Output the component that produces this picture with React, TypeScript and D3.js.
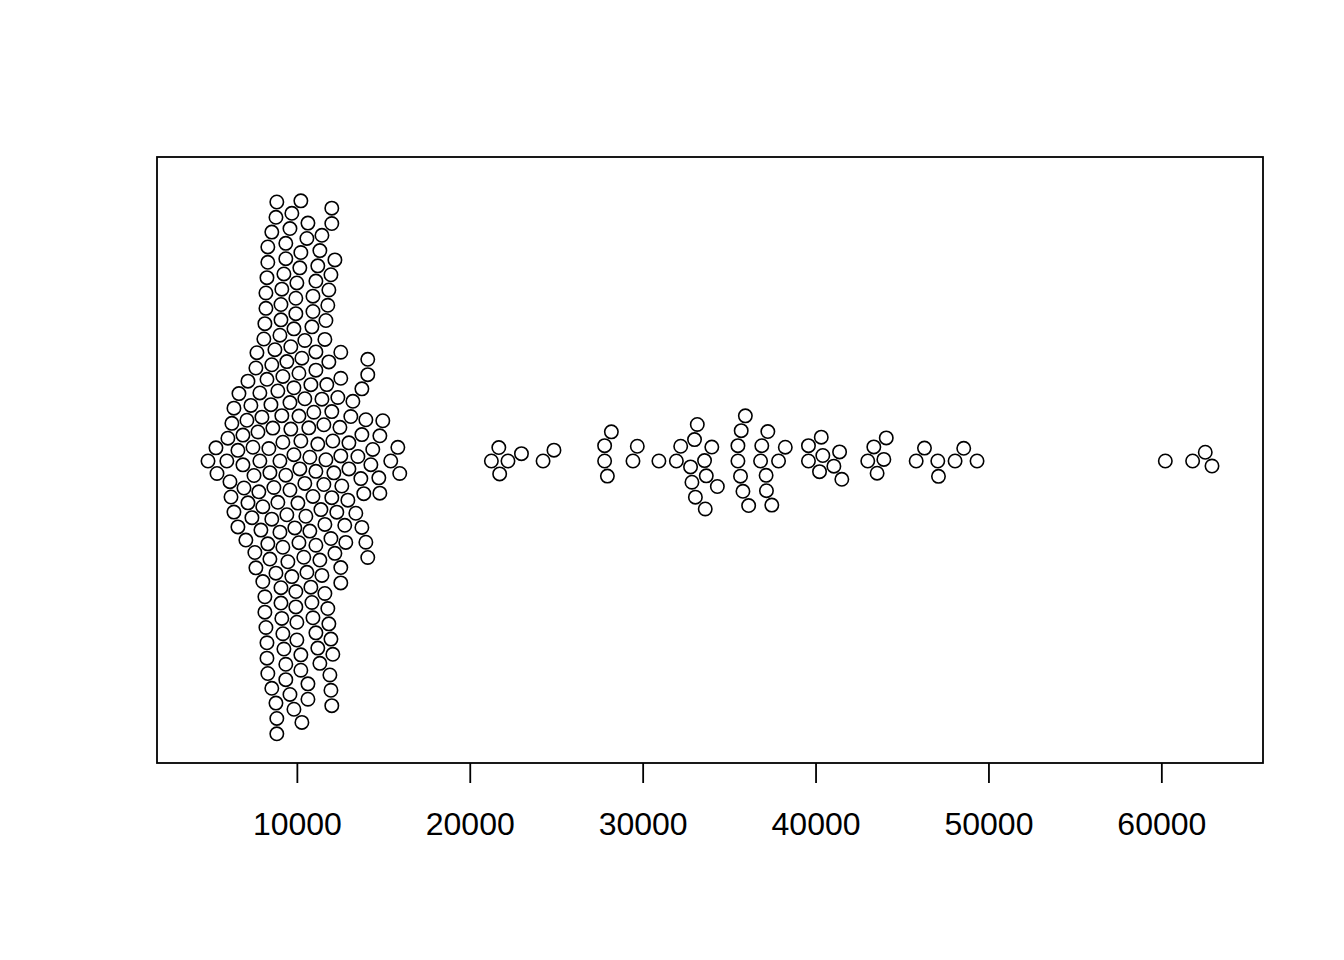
import React, { useRef, useEffect } from "react";
import * as d3 from "d3";

// values, band by band (top of the swarm first)
const clusterA = [9480, 10580, 9360, 8840, 10230, 12080, 9600, 8550, 12020, 10520, 9250, 8380, 12020, 10120, 11100, 9190, 8320, 11970, 10000, 10980, 9130, 8270, 11790, 9940, 10870, 9080, 8270, 11680, 9830, 10750, 9020, 8210, 11620, 9830, 10690, 9020, 8210, 11450, 12540, 10230];
const clusterB = [9360, 11910, 8030, 8840, 10120, 10930, 11450, 7860, 9650, 10640, 8790, 12200, 7630, 8500, 9600, 10460, 11390, 12140, 13010, 14100, 7170, 8090, 9080, 10230, 11210, 11970, 12770, 13990, 6650, 10870];
const clusterC = [7460, 8790, 9710, 11620, 12540, 13760, 6360, 8150, 9190, 10400, 11100, 7400, 6240, 7110, 8840, 10000, 11730, 12540, 13530, 14800, 6010, 7980, 9600, 10750, 13010, 14100, 5380, 6940, 7800, 8670, 10290, 11330, 12310, 13760, 14800, 15950, 8550, 11100, 11970, 12950];
const clusterD = [4860, 5950, 6880, 7690, 9420, 10230, 13760, 14740, 15840, 5320, 6880, 7750, 8550, 9600, 10460, 11330, 12490, 13120, 14100, 14970, 6130, 7050, 8730, 9940, 10930, 11850, 15430, 6190, 7920, 9190, 11620, 12370, 13410, 14390, 6360, 7170, 8150, 10170, 11100, 11970, 12830, 13700, 7340, 8900, 9880];
const clusterE = [6590, 8210, 10640, 11560, 12540, 13870, 6590, 7520, 8320, 9080, 9940, 10810, 11680, 12540, 13240, 13990, 14280, 7570, 8440, 9250, 10060, 10930, 11850, 7630, 8610, 9360, 10230, 11100, 12080, 7860, 8790, 9650, 10460, 11330];
const clusterF = [12200, 9710, 8030, 10580, 8900, 11450, 12600, 8150, 9020, 9830, 10640, 11560, 8270, 9080, 9830, 10810, 11790, 8270, 9130, 9940, 10930, 11850, 8320, 9130, 10000, 11100, 12020, 8320, 9190, 10120, 11210, 12020, 8440, 9360, 10170, 11210, 12020, 8550, 9360, 10290, 9420];
const midGroup = [21250, 21680, 21730, 22210, 22990, 24240, 24870, 27800, 27800, 27960, 28190, 29440, 29690];
const highGroup = [30940, 31950, 32200, 32770, 32850, 33000, 33050, 33160, 33580, 33620, 33680, 34000, 34320, 35510, 35510, 35660, 35700, 35800, 35940, 36130, 36820, 36890, 37140, 37160, 37240, 37470, 37860, 38250, 39590, 39590, 40230, 40330, 40420, 41060, 41390, 41520, 43020, 43370, 43560, 43950, 44090, 45820, 46300, 47070, 47110, 48070, 48570, 49340];
const topGroup = [60230, 61810, 62540, 62930];

const tickLabels = [10000, 20000, 30000, 40000, 50000, 60000];

const allValues = [
  ...clusterA, ...clusterB, ...clusterC, ...clusterD, ...clusterE, ...clusterF,
  ...midGroup, ...highGroup, ...topGroup
];

// beeswarm "swarm" method, priority ascending (same as R's beeswarm)
function swarm(xs, size) {
  const order = xs.map((_, i) => i).sort((a, b) => xs[a] - xs[b]);
  const px = [], py = [];
  const out = new Array(xs.length).fill(0);
  order.forEach(i => {
    const xi = xs[i] / size;
    const preX = [], preY = [];
    for (let j = 0; j < px.length; j++) {
      if (Math.abs(xi - px[j]) < 1) {
        preX.push(px[j]);
        preY.push(py[j]);
      }
    }
    let y = 0;
    if (preX.length) {
      const off = preX.map(p => Math.sqrt(1 - (xi - p) ** 2));
      const cand = [0, ...preY.map((p, k) => p + off[k]), ...preY.map((p, k) => p - off[k])];
      let best = 0, bestAbs = Infinity;
      cand.forEach(c => {
        const bad = preX.some((p, k) => (xi - p) ** 2 + (c - preY[k]) ** 2 < 0.999);
        if (!bad && Math.abs(c) < bestAbs) {
          bestAbs = Math.abs(c);
          best = c;
        }
      });
      y = best;
    }
    px.push(xi);
    py.push(y);
    out[i] = y * size;
  });
  return out;
}

function BeeSwarm() {
  const ref = useRef(null);

  useEffect(() => {
    d3.select(ref.current).select("svg").remove();

    const width = 1344, height = 960;
    const left = 157, right = 1263, top = 157, bottom = 763;
    const mid = 461;
    const spacing = 15.36;

    const [lo, hi] = d3.extent(allValues);
    const pad = (hi - lo) * 0.0508;
    const x = d3.scaleLinear().domain([lo - pad, hi + pad]).range([left, right]);

    const svg = d3
      .select(ref.current)
      .append("svg")
      .attr("width", width)
      .attr("height", height)
      .style("display", "block")
      .style("background", "#fff");

    const offsets = swarm(allValues.map(v => x(v)), spacing);

    svg
      .append("g")
      .selectAll("circle")
      .data(allValues)
      .enter()
      .append("circle")
      .attr("cx", d => x(d))
      .attr("cy", (d, i) => mid - offsets[i])
      .attr("r", 6.7)
      .attr("fill", "#fff")
      .attr("stroke", "#000")
      .attr("stroke-width", 1.6);

    svg
      .append("rect")
      .attr("x", left)
      .attr("y", top)
      .attr("width", right - left)
      .attr("height", bottom - top)
      .attr("fill", "none")
      .attr("stroke", "#000")
      .attr("stroke-width", 1.8);

    const axis = svg
      .append("g")
      .attr("transform", `translate(0, ${bottom})`)
      .call(d3.axisBottom(x).tickValues(tickLabels).tickSize(20).tickPadding(29).tickFormat(d3.format("d")));

    axis.select(".domain").remove();
    axis.selectAll("line").attr("stroke", "#000").attr("stroke-width", 1.8);
    axis
      .selectAll("text")
      .attr("fill", "#000")
      .attr("font-size", "32px")
      .attr("font-family", "'Liberation Sans', Arial, sans-serif");
  }, []);

  return <div ref={ref} style={{ position: "absolute", left: 0, top: 0 }}></div>;
}

export default function App() {
  return <BeeSwarm />;
}
